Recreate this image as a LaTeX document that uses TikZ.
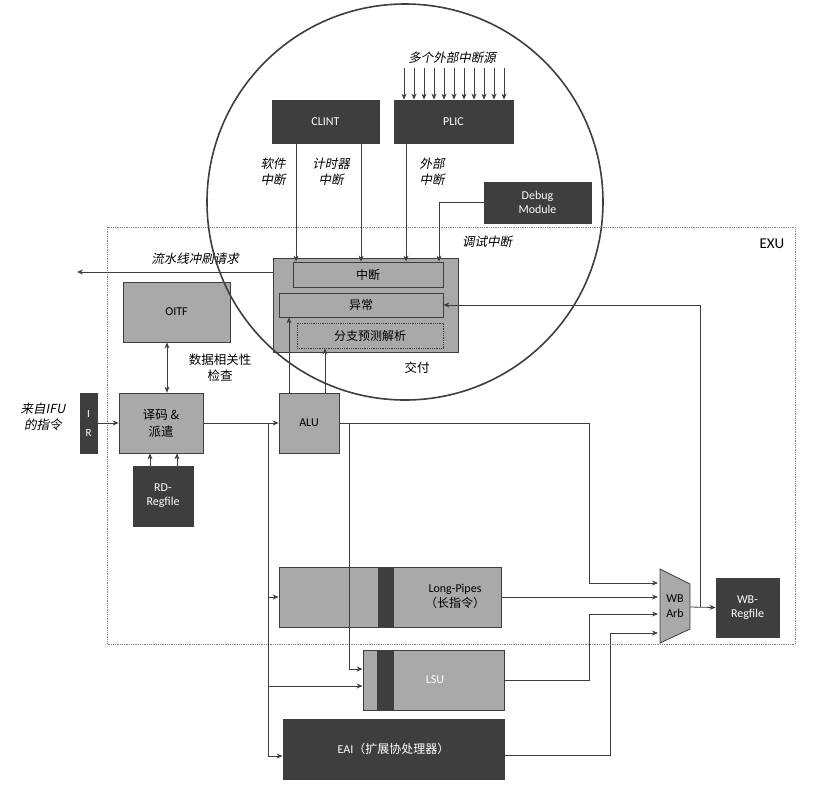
\documentclass[tikz,border=0pt]{standalone}
\usepackage{fontspec}
\setmainfont{Carlito}
\newfontfamily\cjk{Noto Sans CJK SC}
\newfontfamily\cjki{Noto Sans CJK SC}[FakeSlant=0.2]
\usetikzlibrary{arrows.meta}
\definecolor{boxgray}{HTML}{A9A9A9}
\definecolor{boxdark}{HTML}{3E3E3E}
\begin{document}
\begin{tikzpicture}[x=1pt,y=-1pt,line width=0.8pt,
	lite/.style={draw=boxdark,fill=boxgray,minimum width=#1,inner sep=0pt,font=\fontsize{12}{14}\selectfont},
	dark/.style={draw=boxdark,fill=boxdark,text=white,minimum width=#1,inner sep=0pt,align=center,font=\fontsize{12}{14}\selectfont},
	lbl/.style={align=center,font=\cjki\fontsize{12.5}{16}\selectfont},
	txt/.style={align=center,font=\cjk\fontsize{12.5}{16}\selectfont},
	wire/.style={draw=boxdark,-{Stealth[length=6pt,width=5pt]}}]
\useasboundingbox (0,0) rectangle (817,796);
% EXU region
\draw[gray,densely dotted] (107,227) rectangle (795,644);
\node[font=\fontsize{15}{17}\selectfont] (exu) at (772,244) {EXU};
% interrupt sources
\node[dark=107pt,minimum height=43pt] (clint) at (325.5,121.5) {CLINT};
\node[dark=119pt,minimum height=43pt] (plic) at (453.5,121.5) {PLIC};
\node[dark=107pt,minimum height=41pt] (dbg) at (537.5,202.5) {Debug\\Module};
\node[lbl] (src) at (452,58) {多个外部中断源};
\foreach \i in {0,...,10}
	\draw[wire] (404+\i*10,68) -- (404+\i*10,0 |- plic.north);
% commit
\node[lite=185pt,minimum height=94pt] (cmt) at (365.5,305) {};
\node[lite=150pt,minimum height=25pt] (int) at (368,274.5) {\cjk 中断};
\node[lite=164pt,minimum height=24pt] (exc) at (361,305) {\cjk 异常};
\node[lite=146pt,minimum height=25pt,densely dotted] (br) at (370,335.5) {\cjk 分支预测解析};
\node[txt] (jf) at (417,368) {交付};
\draw[wire] (296,0 |- clint.south) -- (296,0 |- int.north);
\draw[wire] (361,0 |- clint.south) -- (361,0 |- int.north);
\draw[wire] (406,0 |- plic.south) -- (406,0 |- int.north);
\draw[wire] (dbg.west) -| (439,0 |- int.north);
\node[lbl] (swi) at (273,172) {软件\\中断};
\node[lbl] (tmi) at (331,172) {计时器\\中断};
\node[lbl] (exi) at (432,172) {外部\\中断};
\node[lbl] (dbi) at (487,242) {调试中断};
% flush
\coordinate (fl) at (77,272);
\draw[wire] (cmt.west |- fl) -- (fl);
\node[lbl] (fll) at (195,259) {流水线冲刷请求};
% dispatch
\node[lite=107pt,minimum height=60pt] (oitf) at (176.5,312) {OITF};
\node[lite=84pt,minimum height=60pt,align=center,font=\cjk\fontsize{12.5}{17}\selectfont] (dec) at (161,423) {译码 \&\\派遣};
\node[dark=17pt,minimum height=60pt,font=\fontsize{11}{19}\selectfont] (ir) at (88.5,423) {I\\R};
\node[lbl] (ifu) at (43,417) {来自IFU\\的指令};
\node[dark=60pt,minimum height=60pt] (rd) at (163,496) {RD-\\Regfile};
\node[txt] (dep) at (220,368) {数据相关性\\检查};
\draw[draw=boxdark,{Stealth[length=6pt,width=5pt]}-{Stealth[length=6pt,width=5pt]}] (167,0 |- oitf.south) -- (167,0 |- dec.north);
\draw[wire] (ir) -- (dec);
\draw[wire] (150,0 |- rd.north) -- (150,0 |- dec.south);
\draw[wire] (177,0 |- rd.north) -- (177,0 |- dec.south);
% execution units
\node[lite=60pt,minimum height=60pt] (alu) at (309,423) {ALU};
\node[lite=222pt,minimum height=60pt] (lp) at (390,597) {};
\fill[boxdark] (378,567) rectangle (394,627);
\node[align=center,font=\fontsize{12}{15}\selectfont] (lpt) at (455,596) {Long-Pipes\\{\cjk （长指令）}};
\node[lite=141pt,minimum height=60pt] (lsu) at (433.5,680) {};
\fill[boxdark] (377,650) rectangle (394,710);
\node[text=white,font=\fontsize{12}{14}\selectfont] (lsut) at (435,680) {LSU};
\node[dark=221pt,minimum height=60pt] (eai) at (393.5,749) {EAI{\cjk （扩展协处理器）}};
\draw[wire] (dec) -- (alu);
\draw[draw=boxdark] (268,423) -- (268,756);
\draw[wire] (268,0 |- lp.west) -- (lp.west);
\draw[wire] (268,686) -- (lsu.west |- 0,686);
\draw[wire] (268,756) -- (eai.west |- 0,756);
\draw[wire] (289,0 |- alu.north) -- (289,0 |- exc.south);
\draw[wire] (325,0 |- alu.north) -- (325,0 |- br.south);
\draw[wire] (349,0 |- alu.east) -- (349,669) -- (lsu.west |- 0,669);
% write back
\draw[draw=boxdark,fill=boxgray] (660,569) -- (690,584) -- (690,629) -- (660,643) -- cycle;
\node[font=\fontsize{12}{15}\selectfont,align=center] (wb) at (675,606) {WB\\Arb};
\node[dark=63pt,minimum height=59pt] (wbr) at (747.5,607.5) {WB-\\Regfile};
\draw[wire] (alu.east) -- (589,423) -- (589,583) -- (658,583);
\draw[wire] (lp.east) -- (658,0 |- lp.east);
\draw[wire] (lsu.east) -- (589,680) -- (589,614) -- (658,614);
\draw[wire] (eai.east |- 0,755) -- (610,755) -- (610,633) -- (658,633);
\draw[wire] (690,607) -- (wbr.west);
\draw[wire] (700,607) -- (700,305) -- (exc.east);
% zoom circle
\draw[boxdark,line width=1.6pt] (405,202) circle[radius=198];
\end{tikzpicture}
\end{document}
